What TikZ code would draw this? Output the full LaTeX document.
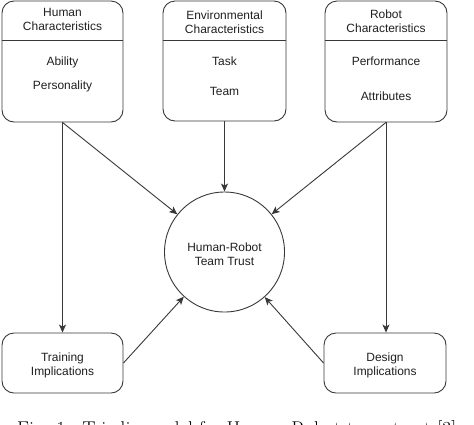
\documentclass[tikz,border=0pt]{standalone}
\usepackage{fontspec}
\newfontfamily\lsans{Liberation Sans}
\usetikzlibrary{arrows.meta,calc}
\begin{document}
\begin{tikzpicture}[x=1bp,y=-1bp,
  line/.style={draw=black!78, line width=0.9bp},
  box/.style={line, rounded corners=12bp, inner sep=0, rectangle},
  lbl/.style={font=\lsans\fontsize{12}{14}\selectfont, text=black!88, inner sep=0, align=center},
  arr/.style={line, -{Stealth[length=8bp,width=7bp,inset=2bp]}},
  captxt/.style={font=\fontsize{20}{22}\selectfont, text=black, inner sep=0, anchor=base west}]
\useasboundingbox (0,0) rectangle (474,424);

% top boxes
\node[box, minimum width=121bp, minimum height=121bp] (hum) at (62.5,61.5) {};
\node[box, minimum width=123bp, minimum height=120bp] (env) at (224.5,61) {};
\node[box, minimum width=122bp, minimum height=121bp] (rob) at (386,61.5) {};
\draw[line] ($(hum.north west)+(0,40)$) -- ($(hum.north east)+(0,40)$);
\draw[line] ($(env.north west)+(0,40)$) -- ($(env.north east)+(0,40)$);
\draw[line] ($(rob.north west)+(0,40)$) -- ($(rob.north east)+(0,40)$);

\node[lbl] (humh) at (62.5,19) {Human\\Characteristics};
\node[lbl] (hum1) at (62.5,62) {Ability};
\node[lbl] (hum2) at (62.5,86) {Personality};

\node[lbl] (envh) at (224.5,22) {Environmental\\Characteristics};
\node[lbl] (env1) at (224.5,61) {Task};
\node[lbl] (env2) at (224.5,91) {Team};

\node[lbl] (robh) at (386,21.5) {Robot\\Characteristics};
\node[lbl] (rob1) at (386,61) {Performance};
\node[lbl] (rob2) at (386,96) {Attributes};

% centre
\node[line, circle, minimum size=120bp, inner sep=0] (circ) at (224.5,252) {};
\node[lbl] (circt) at (224.5,254.5) {Human-Robot\\Team Trust};

% bottom boxes
\node[box, minimum width=121bp, minimum height=60bp] (tra) at (62.5,363) {};
\node[lbl] (trat) at (62.5,365.5) {Training\\Implications};
\node[box, minimum width=122bp, minimum height=60bp] (des) at (385,363) {};
\node[lbl] (dest) at (385,365.5) {Design\\Implications};

% connectors
\draw[arr] (hum.south) -- (hum.south |- tra.north);
\draw[arr] (hum.south) -- (circ);
\draw[arr] (env.south) -- (circ.north);
\draw[arr] (rob.south) -- (circ);
\draw[arr] (rob.south) -- (rob.south |- des.north);
\draw[arr] (tra.east) -- (circ);
\draw[arr] (des.west) -- (circ);

% caption (cut off by the frame, as in the reference)
\begin{scope}
\clip (0,0) rectangle (474,424);
\node[captxt] (caption) at (17,435) {Fig. 1.\ \ Triadic model for Human-Robot team trust [3]};
\end{scope}
\end{tikzpicture}
\end{document}
